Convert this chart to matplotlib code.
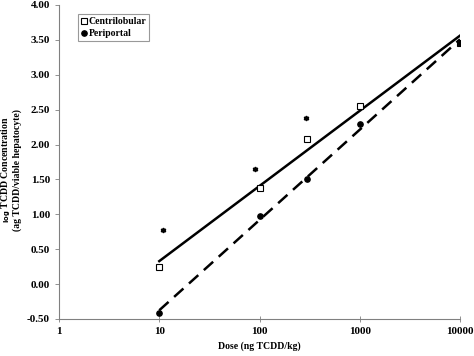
import numpy as np
import matplotlib.pyplot as plt

# Donnees
dose = [10, 100, 300, 1000, 10000]
centri = [0.25, 1.37, 2.08, 2.55, 3.45]
peri = [-0.42, 0.97, 1.50, 2.30, 3.45]
star_dose = [11, 90, 290]
star_val = [0.78, 1.65, 2.38]

plt.rcParams["font.family"] = ["Liberation Serif", "DejaVu Serif"]
plt.rcParams["font.weight"] = "bold"


def fit_line(x, y):
    lx = np.log10(x)
    p = np.polyfit(lx, y, 1)
    xs = np.array([min(x), max(x)], dtype=float)
    return xs, np.polyval(p, np.log10(xs))


fig = plt.figure(figsize=(4.74, 3.56), dpi=100)
ax = fig.add_axes([0.1245, 0.104, 0.846, 0.882])

xc, yc = fit_line(dose, centri)
xp, yp = fit_line(dose, peri)
ax.plot(xc, yc, color="black", lw=1.8)
ax.plot(xp, yp, color="black", lw=1.8, dashes=(5, 3))

ax.plot(dose, centri, ls="none", marker="s", ms=4.2, mfc="white", mec="black",
        mew=0.8, label="Centrilobular")
ax.plot(dose, peri, ls="none", marker="o", ms=3.8, color="black", label="Periportal")
ax.plot(star_dose, star_val, ls="none", marker="$*$", ms=3.0, color="black")

ax.set_xscale("log")
ax.set_xlim(1, 10000)
ax.set_ylim(-0.5, 4.0)
ax.set_xticks([1, 10, 100, 1000, 10000])
ax.set_xticklabels(["1", "10", "100", "1000", "10000"])
ax.xaxis.set_minor_locator(plt.NullLocator())
ax.set_yticks(np.arange(-0.5, 4.01, 0.5))
ax.set_yticklabels([f"{v:.2f}" for v in np.arange(-0.5, 4.01, 0.5)])
ax.tick_params(axis="both", labelsize=8, length=3, width=0.6, color="gray")
ax.tick_params(axis="x", direction="inout", length=5)

for s in ["top", "right"]:
    ax.spines[s].set_visible(False)
for s in ["left", "bottom"]:
    ax.spines[s].set_color("gray")
    ax.spines[s].set_linewidth(0.8)

ax.set_xlabel("Dose (ng TCDD/kg)", fontsize=7, fontweight="bold", labelpad=4)
ax.set_ylabel("$_{\\mathrm{log}}$ TCDD Concentration\n(ag TCDD/viable hepatocyte)",
              fontsize=7, fontweight="bold", linespacing=0.95)
ax.yaxis.set_label_coords(-0.092, 0.475)

leg = ax.legend(loc="upper left", bbox_to_anchor=(0.047, 0.971), fontsize=7,
                frameon=True, fancybox=False, handlelength=0.6, handletextpad=0.2,
                borderpad=0.3, labelspacing=0.3, borderaxespad=0.0)
leg.get_frame().set_edgecolor("gray")
leg.get_frame().set_linewidth(0.8)

fig.savefig("out.png", dpi=100)
